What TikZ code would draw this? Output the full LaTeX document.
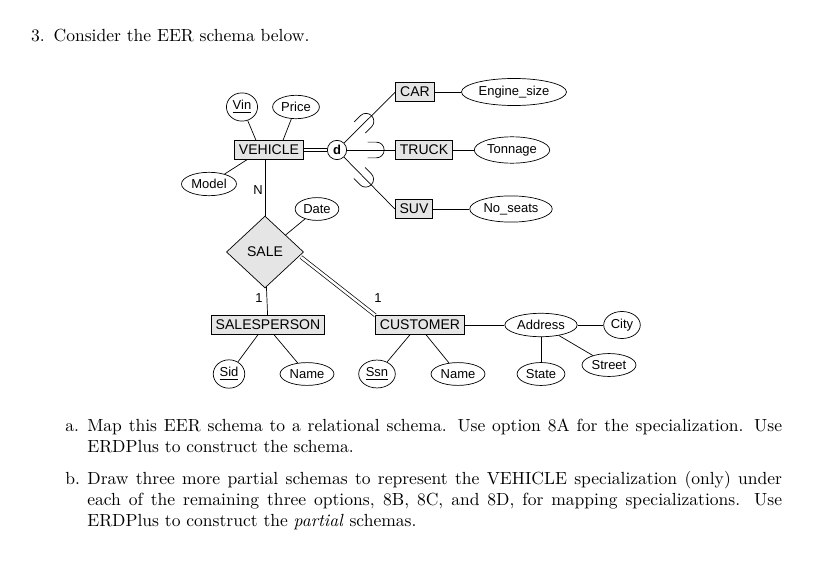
\documentclass[tikz,border=0pt]{standalone}
\usepackage{fontspec}
\setsansfont{Liberation Sans}
\usetikzlibrary{shapes.geometric}
\newcommand{\subsym}{\tikz[baseline=0pt]\draw[line width=0.4pt] (-5pt,4.5pt) -- (0pt,4.5pt) arc (90:-90:4.5pt) -- (-5pt,-4.5pt);}
\begin{document}
\begin{tikzpicture}[x=0.57pt,y=-0.57pt,
  ent/.style={draw,fill=gray!20,font=\sffamily\fontsize{8}{9}\selectfont,inner xsep=2.5pt,inner ysep=2.5pt},
  att/.style={draw,ellipse,fill=white,font=\sffamily\fontsize{7.4}{9}\selectfont,inner xsep=1pt,inner ysep=2pt,minimum height=13pt},
  rel/.style={draw,diamond,fill=gray!20,aspect=1.1,font=\sffamily\fontsize{8}{9}\selectfont,minimum width=44pt,minimum height=41pt,inner sep=0pt},
  lbl/.style={font=\sffamily\fontsize{7.4}{9}\selectfont},
  sub/.style={sloped,inner sep=0pt,anchor=center},
  dbl/.style={double,double distance=1.4pt},
  q/.style={anchor=north west,text width=396pt,align=justify,font=\fontsize{10}{12}\selectfont,inner sep=0pt},
  ql/.style={anchor=north west,font=\fontsize{10}{12}\selectfont,inner sep=0pt}]
\useasboundingbox (0,0) rectangle (821,565);
\node[anchor=base west,font=\fontsize{10}{12}\selectfont] (t) at (25,42) {3.\enspace Consider the EER schema below.};
% entities
\node[ent] (veh) at (269,150) {VEHICLE};
\node[draw,circle,fill=white,inner sep=1pt,minimum size=11pt,font=\sffamily\bfseries\fontsize{7.4}{9}\selectfont] (d) at (337,150) {d};
\node[ent] (car) at (415,92) {CAR};
\node[ent] (truck) at (424,150) {TRUCK};
\node[ent] (suv) at (414,209) {SUV};
\node[ent] (sp) at (268,325) {SALESPERSON};
\node[ent] (cu) at (420,325) {CUSTOMER};
\node[rel] (sale) at (265,252) {SALE};
% attributes
\node[att] (vin) at (242,107) {\underline{Vin}};
\node[att] (price) at (296,107) {Price};
\node[att] (model) at (209,184) {Model};
\node[att] (date) at (317,209) {Date};
\node[att] (eng) at (514,92) {Engine\_size};
\node[att] (ton) at (512,150) {Tonnage};
\node[att] (nos) at (511,209) {No\_seats};
\node[att] (addr) at (541,325) {Address};
\node[att] (city) at (622,325) {City};
\node[att] (street) at (609,365) {Street};
\node[att] (state) at (541,374) {State};
\node[att] (sid) at (229,374) {\underline{Sid}};
\node[att] (n1) at (307,374) {Name};
\node[att] (ssn) at (377,374) {\underline{Ssn}};
\node[att] (n2) at (458,374) {Name};
% labels
\node[lbl] (N) at (258,190) {N};
\node[lbl] (one1) at (259,298) {1};
\node[lbl] (one2) at (378,298) {1};
% connectors
\draw (vin) -- (veh.north -| 256,0);
\draw (price) -- (veh.north -| 283,0);
\draw (model) -- (veh.south -| 247,0);
\draw (veh.south -| sale) -- (sale.north);
\draw (date) -- (sale);
\draw[dbl] (veh) -- (d);
\draw (d) -- (car.west) node[sub,pos=0.42] {\subsym};
\draw (d) -- (truck.west) node[sub,pos=0.6] {\subsym};
\draw (d) -- (suv.west) node[sub,pos=0.42] {\subsym};
\draw (car) -- (eng);
\draw (truck) -- (ton);
\draw (suv) -- (nos);
\draw (sale) -- (sp);
\draw[dbl] (sale.east) ++(-3,5) -- (cu.north west);
\draw (cu) -- (addr);
\draw (addr) -- (city);
\draw (addr) -- (street);
\draw (addr) -- (state);
\draw (sp.south -| 258,0) -- (sid);
\draw (sp.south -| 274,0) -- (n1);
\draw (cu.south -| 410,0) -- (ssn);
\draw (cu.south -| 426,0) -- (n2);
% questions
\node[q] (qa) at (87,416) {\strut Map this EER schema to a relational schema. Use option 8A for the specialization. Use ERDPlus to construct the schema.};
\node[ql] (la) at (65,416) {\strut a.};
\node[q] (qb) at (87,469) {\strut Draw three more partial schemas to represent the VEHICLE specialization (only) under each of the remaining three options, 8B, 8C, and 8D, for mapping specializations. Use ERDPlus to construct the \emph{partial} schemas.};
\node[ql] (lb) at (65,469) {\strut b.};
\end{tikzpicture}
\end{document}
